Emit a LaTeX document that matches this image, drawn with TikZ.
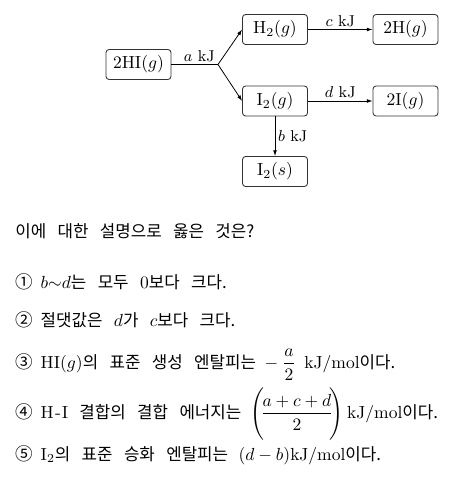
\documentclass[tikz,border=0pt]{standalone}
\usepackage{amsmath}
\usepackage{fontspec}
\newfontfamily\kr{Noto Sans CJK KR}[Scale=0.96]
\newfontfamily\krc{Noto Sans CJK KR}[Scale=1.0]
\newcommand\ksp{\hspace{6.5pt}}
\newcommand\csp{\hspace{4.5pt}}
\usetikzlibrary{arrows.meta}
\begin{document}
\begin{tikzpicture}[x=0.5714pt,y=-0.5714pt,
  box/.style={draw=black!80, rounded corners=1.7pt, line width=0.5pt, minimum width=37.1pt, minimum height=17.1pt, inner sep=0pt},
  arr/.style={-{Latex[length=3.3pt,width=2.2pt]}, line width=0.45pt},
  lbl/.style={inner sep=1.5pt,font=\small},
  txt/.style={anchor=base west, inner sep=0pt}]
\useasboundingbox (0,0) rectangle (459,486);
\node[box] (hi) at (138.5,64.5) {2HI$(g)$};
\node[box] (h2) at (275,29.5) {H$_2(g)$};
\node[box] (h) at (405.5,29.5) {2H$(g)$};
\node[box] (i2) at (275,101) {I$_2(g)$};
\node[box] (i) at (405.5,101) {2I$(g)$};
\node[box] (i2s) at (275,171.5) {I$_2(s)$};
\coordinate (br) at (218,64.5);
\draw[line width=0.45pt] (hi.east) -- node[lbl,above,pos=0.6]{$a$ kJ} (br);
\draw[arr] (br) -- (h2.west);
\draw[arr] (br) -- (i2.west);
\draw[arr] (h2.east) -- node[lbl,above]{$c$ kJ} (h.west);
\draw[arr] (i2.east) -- node[lbl,above]{$d$ kJ} (i.west);
\draw[arr] (i2.south) -- node[lbl,right]{$b$ kJ} (i2s.north);
\node[txt] (q) at (15,237) {\kr 이에\ksp{}대한\ksp{}설명으로\ksp{}옳은\ksp{}것은?};
\node[txt] (o1) at (15,288) {{\krc ①}\csp$b{\sim}d${\kr 는\ksp{}모두\ksp{}}0{\kr 보다\ksp{}크다.}};
\node[txt] (o2) at (15,326) {{\krc ②}\csp{\kr 절댓값은\ksp{}}$d${\kr 가\ksp{}}$c${\kr 보다\ksp{}크다.}};
\node[txt] (o3) at (15,368) {{\krc ③}\csp HI$(g)${\kr 의\ksp{}표준\ksp{}생성\ksp{}엔탈피는}\hspace{5pt}$-\mskip\medmuskip\dfrac{a}{2}$\hspace{5pt}kJ/mol{\kr 이다.}};
\node[txt] (o4) at (15,418) {{\krc ④}\csp H\kern.8pt-\kern.4pt I\ksp{\kr 결합의\ksp{}결합\ksp{}에너지는}\hspace{5pt}$\Bigg(\kern-2pt\dfrac{a+c+d}{2}\kern-2pt\Bigg)$\hspace{2pt}kJ/mol{\kr 이다.}};
\node[txt] (o5) at (15,460) {{\krc ⑤}\csp I$_2${\kr 의\ksp{}표준\ksp{}승화\ksp{}엔탈피는}\hspace{6pt}$(d-b)$kJ/mol{\kr 이다.}};
\end{tikzpicture}
\end{document}
